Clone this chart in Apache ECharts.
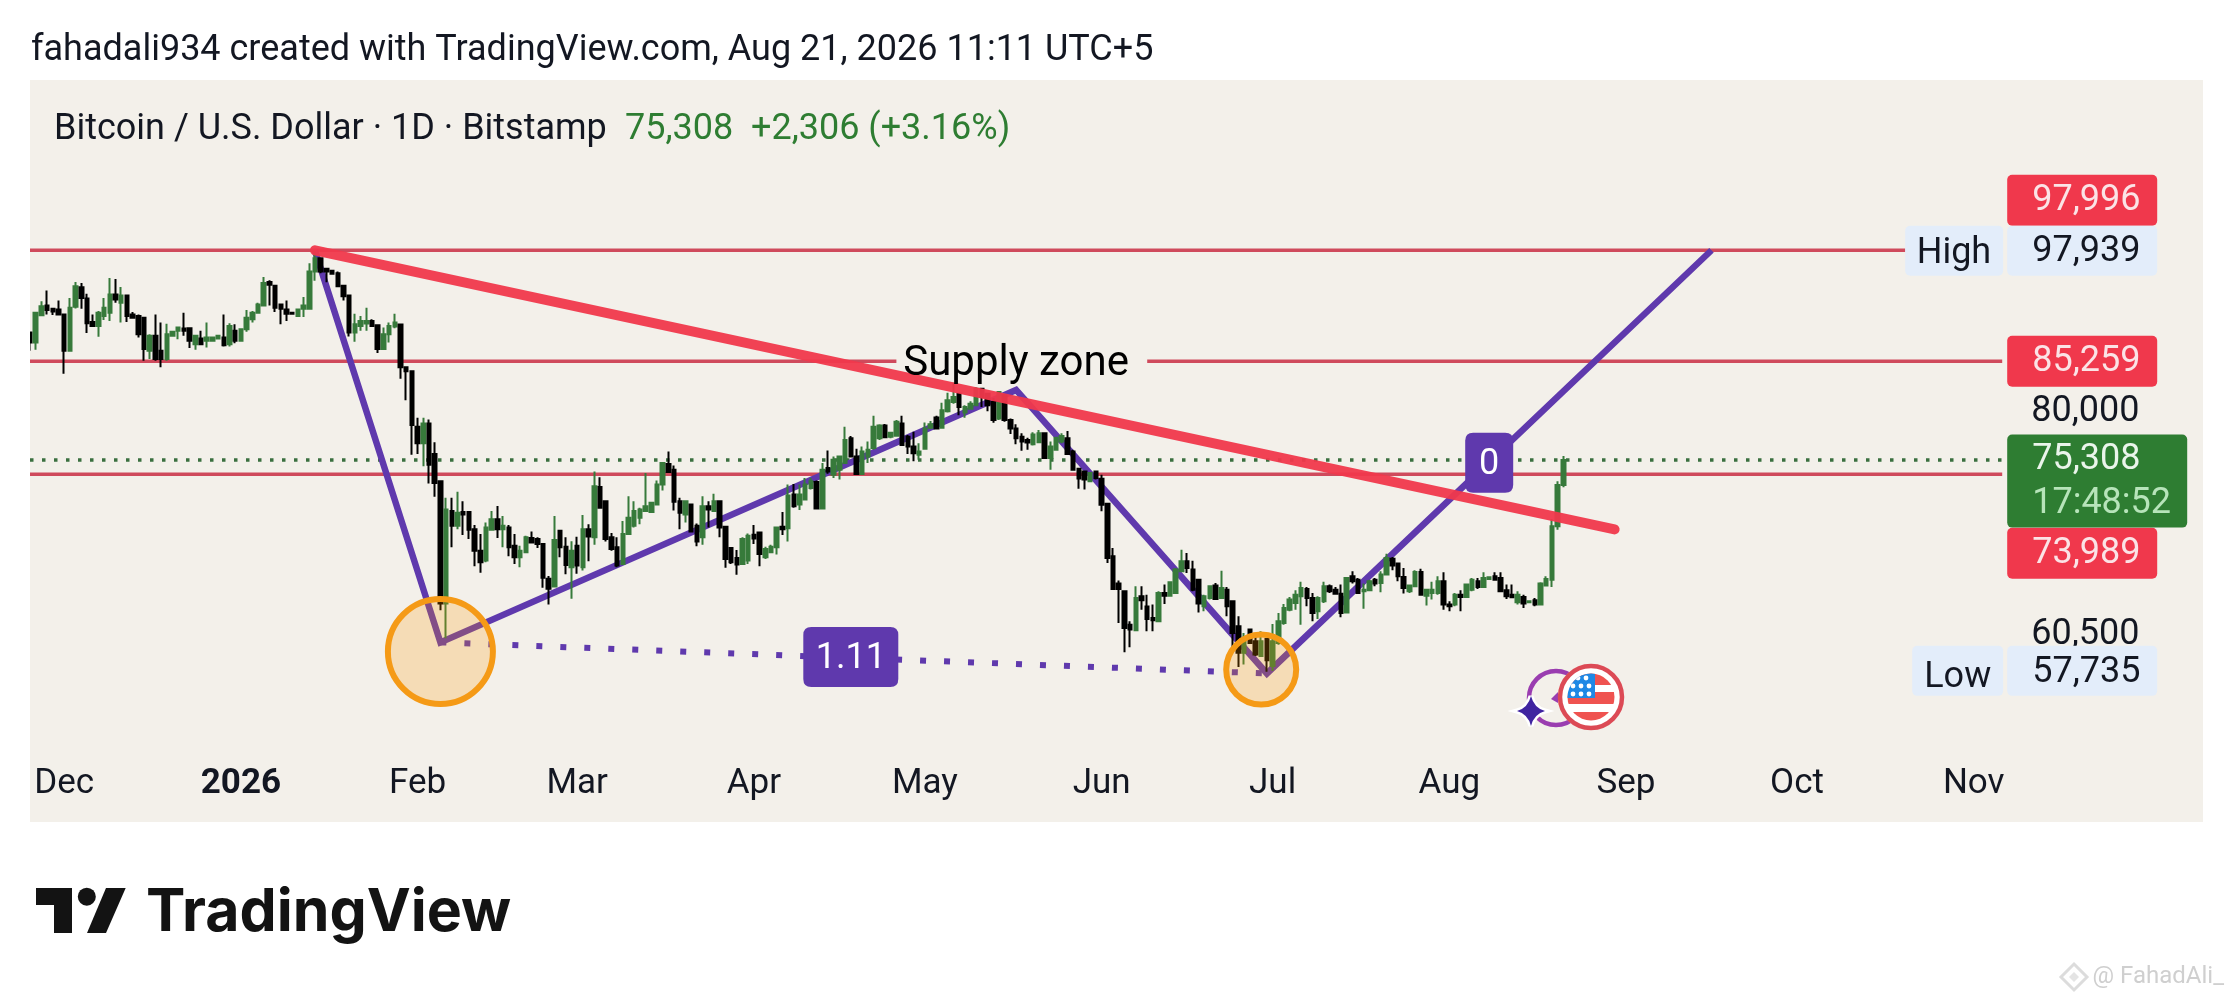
<!DOCTYPE html>
<html><head><meta charset="utf-8">
<style>html,body{margin:0;padding:0;background:#fff}#c{width:2232px;height:1002px}</style>
<script src="https://cdn.jsdelivr.net/npm/echarts@6/dist/echarts.min.js"></script>
</head><body><div id="c"></div>
<script>
// candle rows: [open, close, low, high]
const nov2025 = [[88390,87280,86390,88500],[87280,90610,86500,90700],[90310,91360,90230,91930],[91440,90910,90420,93170],[91060,90760,90350,91170],[90980,90420,90350,92000]];
const dec2025 = [[90420,86390,83920,90420],[86390,91170,86390,92310],[91280,93660,91100,94170],[93540,92310,91060,94060],[92230,89420,88320,92780],[89560,89120,89120,90420],[89120,90610,87910,90800],[90230,91170,89790,92310],[90610,92700,89680,94640],[92700,92120,91740,94530],[91740,92590,89490,93580],[92590,90230,89560,92700],[90420,90050,89940,90680],[90230,88200,87840,90420],[90050,86570,85320,90050],[86390,88020,85500,88200],[88020,85500,85320,90420],[86390,85500,84620,89490],[85500,88200,85320,89370],[88020,88460,87910,88570],[88570,88940,87650,89050],[88830,88570,88020,90610],[88870,87470,86680,88940],[87100,88020,86500,88090],[87730,87100,86990,88570],[87470,87840,86750,89490],[87470,87840,87360,87950],[87730,88020,87650,88090],[87840,86990,86860,90420],[87100,89120,86860,89420],[88570,87470,87210,89310]];
const jan2026 = [[87470,88760,87360,88830],[88760,90050,88460,90910],[89860,90610,89490,90800],[90610,91550,90490,91740],[91440,94060,91440,94760],[94170,93860,91440,94370],[93740,91170,90680,93740],[91550,91060,89310,91660],[90980,90490,89680,92000],[90610,90490,90420,90680],[90230,90980,90230,91060],[91060,91440,90120,92420],[91060,95420,91060,96420],[95420,97030,94330,97939],[97030,95420,95220,97150],[95740,95420,94140,95740],[95500,95140,95140,95500],[95220,93660,93660,95420],[93740,92510,92000,93740],[92590,88390,87950,92700],[88390,89310,87360,90490],[89120,89680,88570,90230],[89380,89680,88570,91170],[89680,89120,89120,89860],[89190,86570,86140,89190],[86570,88200,86570,88940],[88200,89120,87280,89490],[89050,89490,88870,90490],[89270,84620,83410,89270],[84620,84200,81180,84690],[84200,78700,75820,84200]];
const feb2026 = [[78540,76920,75880,79420],[76920,78860,74720,79420],[78860,74870,73120,79250],[75880,73180,71920,77020],[73340,62900,62380,73340],[62900,70790,60220,71830],[70640,69350,67500,71830],[69350,70500,69060,72370],[70560,70350,68550,71530],[70560,69000,68200,70640],[69060,67220,65920,69420],[67220,66250,65380,68630],[66390,69200,66250,69630],[69000,69920,69000,70640],[69920,69060,68290,71100],[69060,69350,67500,70200],[69200,67500,66750,69420],[67640,66670,66110,68630],[66670,67220,65840,67640],[67080,68350,67080,68490],[68290,67920,67860,68860],[68200,67780,67440,68350],[67780,64980,64170,67840],[64900,64090,62820,65110],[64270,68120,64220,70200],[68920,67500,66670,69000],[67560,66030,65250,68350],[65840,67220,63290,68010]];
const mar2026 = [[67640,65980,65300,68400],[65840,69060,65570,70300],[69060,68430,66340,69490],[68350,72880,67720,74250],[72820,70940,70880,73700],[71530,68200,68000,71620],[68350,67360,67220,68720],[67500,65980,65840,68350],[66110,68630,66110,69770],[68630,70060,68630,71980],[69350,70640,69200,71530],[70060,70790,69490,70940],[70640,71080,70640,74090],[70560,71380,70500,71470],[71230,73030,71230,73400],[73030,75030,72490,75120],[74940,74190,74090,76130],[74400,71470,70700,74810],[71530,70500,69060,71830],[70350,71530,69630,71530],[71230,68860,68780,71290],[69350,68000,67600,69550],[68350,71080,67720,71980],[71080,70790,69200,71530],[70640,71530,70640,72190],[71530,69200,68350,71530],[69260,66530,65790,69350],[67440,66250,66110,67500],[66610,66060,65220,67280],[66110,68200,66030,68350],[66390,68490,66110,68690]];
const apr2026 = [[68570,68260,67780,69410],[68770,66940,65920,68770],[66670,67360,66530,67560],[67080,67560,67000,67720],[67500,69200,66890,69290],[69260,69060,68550,70560],[69140,72030,68000,73030],[72130,71080,70940,73090],[71230,72130,70730,73030],[71680,73030,71620,73640],[72720,73340,72580,73640],[73270,70880,70790,73400],[70880,74400,70790,75030],[74560,74250,74030,76230],[73940,75340,73640,75650],[74400,75650,73490,75750],[75030,77240,74940,78540],[77400,75650,75560,77620],[75650,74000,73940,76380],[74000,76130,73940,76610],[75650,76290,75030,77080],[76450,78540,76290,79610],[77400,78640,77240,78770],[78640,77500,77460,78800],[77560,77950,77400,78040],[77650,79030,77560,79190],[78860,76760,76700,79610],[77560,76610,75880,77720],[76610,75970,75190,78040],[75820,76130,75340,76920]];
const may2026 = [[76380,78350,76350,78960],[78440,78770,78310,79090],[79450,78350,78310,79610],[78440,80180,78350,80940],[80070,81180,79940,81960],[81010,81520,80840,82990],[81860,80500,79680,81930],[79940,80500,79420,80670],[80330,80840,80260,81080],[80670,82370,80670,82540],[82370,81520,80500,82440],[81860,80670,80070,81960],[81010,79190,78930,81420],[79350,82030,79190,82100],[81690,79190,79030,81760],[79190,78350,77820,79350],[78350,77400,76820,78770],[77560,77080,76190,77880],[77240,76980,76290,77460],[76820,77780,76700,77980],[77020,77880,76920,78200],[77880,75500,75500,77980],[75500,76610,74400,77080],[76290,77460,76190,77560],[77080,77620,76920,77880],[77400,75880,75820,78100],[76130,74400,74300,76290],[74500,73590,72660,74560],[74250,73490,72580,74310],[73340,74090,73340,74160],[74250,73640,73490,74340]];
const jun2026 = [[73570,71210,70620,73940],[71300,66600,66190,71360],[66740,64070,64010,67440],[64500,64070,61390,64740],[63880,61010,59180,63960],[61260,60880,59550,61520],[60830,63350,60750,64280],[63480,63160,62420,64280],[62680,61700,60750,63610],[61780,61600,60750,62820],[61520,63750,61440,63880],[63750,63530,62870,64420],[63530,64600,63480,64680],[63750,65640,63750,65780],[65500,66330,65420,67300],[66330,65780,65360,67020],[65640,64010,63880,66380],[64820,62900,62210,64820],[62690,63480,62290,63610],[63350,64280,63220,64340],[64340,63270,63220,64550],[63350,64150,63270,65550],[64010,62690,61900,64230],[63080,60630,59130,63160],[61130,59130,58080,61900],[59130,60000,58280,60630],[60880,59870,59790,60880],[60000,59010,58890,60430],[58890,60000,58890,60750],[60170,58590,57735,60170]];
const jul2026 = [[58160,60000,57800,61300],[59870,61520,59740,62160],[61390,62550,61260,62870],[62420,63220,62290,63430],[62950,63610,62420,63960],[63480,64150,61260,64640],[64070,63350,62690,64230],[63350,62160,61520,63750],[62290,63350,61700,63480],[63080,64280,62950,64640],[64280,63880,63750,64420],[64010,63690,63660,64230],[63690,62160,61830,64420],[62210,64960,62160,65040],[65090,64690,64500,65500],[64820,63750,63660,64960],[63880,64010,62500,64500],[63960,64690,63880,64820],[64820,64500,64280,64960],[64550,65230,63800,65500],[65230,66600,65170,66960],[66550,65970,65580,66680],[66140,65090,64690,66190],[65040,64150,63700,65780],[63880,64340,63750,64420],[64280,65450,64230,65580],[65450,63610,63530,65720],[63530,64010,62740,64070],[63750,64010,63220,64640],[63750,64690,63610,65090],[64690,62820,62420,65420]];
const aug2026 = [[62820,62690,62290,63080],[62820,63610,62690,63750],[63610,63430,62290,63960],[63430,64420,63350,64500],[64010,64820,63880,64960],[64690,64230,64070,64960],[64230,64960,64150,65420],[64880,65010,64820,65090],[65090,64820,64770,65420],[64960,63880,63800,65420],[63960,63480,63270,64420],[63610,63400,63350,64420],[63010,63610,62820,63880],[63430,62900,62550,63610],[63010,63080,62950,63160],[63160,62820,62690,63350],[62820,64500,62740,64600],[64340,64880,64280,65090],[64820,69300,64230,69940],[69300,73002,69010,73330],[73002,75308,72780,75710]];

const firstDay = '2025-11-25';
const dayCount = 347;

const tickDates = ['2025-12-01','2026-01-01','2026-02-01','2026-03-01','2026-04-01','2026-05-01','2026-06-01','2026-07-01','2026-08-01','2026-09-01','2026-10-01','2026-11-01'];
const tickLabels = ['Dec','2026','Feb','Mar','Apr','May','Jun','Jul','Aug','Sep','Oct','Nov'];

const highLine = [['2025-11-25',97996],['2026-10-20',97996]];
const supplyLeft = [['2025-11-25',85259],['2026-04-26',85259]];
const supplyRight = [['2026-06-09',85259],['2026-11-06',85259]];
const lowerLine = [['2025-11-25',73989],['2026-11-06',73989]];
const lastLine = [['2025-11-25',75308],['2026-11-06',75308]];
const redTrend = [['2026-01-14',97996],['2026-08-30',69040]];
const zigzag = [['2026-01-14',97939],['2026-02-05',59910],['2026-05-17',82240],['2026-06-30',57620],['2026-09-16',97996]];
const dottedLeg = [['2026-02-05',59910],['2026-06-30',57620]];
const circleLarge = [['2026-02-05',59230]];
const circleSmall = [['2026-06-29',57900]];
const badgeRatio = [['2026-04-18',58830]];
const badgeZero = [['2026-08-08',75070]];
const supplyText = [['2026-05-17',85259]];

const axisPrices = [80000, 60500];
const tagPrices = [97996, 85259, 73989, 97939, 57735, 75308];
const tagTexts = ['97,996','85,259','73,989','97,939','57,735','75,308'];

const FONT = 'Roboto, sans-serif';
const INK = '#131722', RED = '#f0384c', HLINE = '#cf4a5c', PURPLE = '#5f39ad', GREEN = '#377a3b', BOXGREEN = '#2e7d32', TAGBLUE = '#e3edfa';

const candleRows = [...nov2025, ...dec2025, ...jan2026, ...feb2026, ...mar2026, ...apr2026, ...may2026, ...jun2026, ...jul2026, ...aug2026];
const days = [];
{ const t0 = Date.parse(firstDay + 'T00:00:00Z');
  for (let i = 0; i < dayCount; i++) days.push(new Date(t0 + i * 864e5).toISOString().slice(0, 10)); }

function lineSeries(data, color, width, z, extra) {
  return Object.assign({ type:'line', data, symbol:'none', silent:true, z, clip:false, animation:false,
    lineStyle:{ color, width, cap:'butt', join:'miter', ...(extra||{}) } });
}
// shape of each right-hand price tag: fill, text colour, box centre shift, box height
const tagLook = [
  { fill:RED, ink:'#fbe3e6', shift:-50, h:51, w:150, dy:1 },
  { fill:RED, ink:'#fbe3e6', shift:0, h:51, w:150, dy:1 },
  { fill:RED, ink:'#fbe3e6', shift:79, h:51, w:150, dy:1 },
  { fill:TAGBLUE, ink:INK, shift:0, h:50, w:150, dy:1, side:'High', sideW:98, sideDy:3 },
  { fill:TAGBLUE, ink:INK, shift:-1, h:50, w:150, dy:2, side:'Low', sideW:91, sideDy:7 },
  { fill:BOXGREEN, ink:'#eaf5eb', shift:21, h:93, w:180, dy:0, second:'17:48:52' }
];
function renderTag(params, api) {
  const i = params.dataIndex, look = tagLook[i];
  const pt = api.coord([api.value(0), api.value(1)]);
  const left = pt[0] + 5, cy = pt[1] + look.shift, top = cy - look.h / 2;
  const kids = [{ type:'rect', shape:{ x:left, y:top, width:look.w, height:look.h, r:5 }, style:{ fill:look.fill } }];
  const font = '36px ' + FONT;
  const textY = (look.second ? cy - 21 : cy) + look.dy;
  kids.push({ type:'text', style:{ text:tagTexts[i], x:left + 25, y:textY, fill:look.ink, font, textVerticalAlign:'middle' } });
  if (look.second) kids.push({ type:'text', style:{ text:look.second, x:left + 25, y:cy + 23, fill:'#b7e4ba', font, textVerticalAlign:'middle' } });
  if (look.side) {
    kids.push({ type:'rect', shape:{ x:left - 4 - look.sideW, y:top, width:look.sideW, height:look.h, r:5 }, style:{ fill:look.fill } });
    kids.push({ type:'text', style:{ text:look.side, x:left - 4 - 12, y:cy + look.sideDy, fill:INK, font, textAlign:'right', textVerticalAlign:'middle' } });
  }
  return { type:'group', children:kids };
}

const flagSvg = 'data:image/svg+xml;utf8,' + encodeURIComponent(
 `<svg xmlns="http://www.w3.org/2000/svg" width="128" height="84" viewBox="0 0 128 84">
  <circle cx="55" cy="39" r="27" fill="none" stroke="#9a3db0" stroke-width="4.5"/>
  <path d="M57 33 l-7 7 l7 4z" fill="#9a3db0"/>
  <circle cx="90" cy="38" r="33" fill="#fff"/>
  <path d="M30 37 q3 12 14 15 q-11 3 -14 15 q-3 -12 -14 -15 q11 -3 14 -15z" fill="#3f24a0" stroke="#fff" stroke-width="5" paint-order="stroke"/>
  <clipPath id="k"><circle cx="90" cy="38" r="23.5"/></clipPath>
  <g clip-path="url(#k)">
    <rect x="60" y="12" width="60" height="14" fill="#ef5350"/><rect x="60" y="26" width="60" height="7" fill="#fff"/>
    <rect x="60" y="33" width="60" height="12" fill="#ef5350"/><rect x="60" y="45" width="60" height="8" fill="#fff"/>
    <rect x="60" y="53" width="60" height="12" fill="#ef5350"/>
    <rect x="60" y="12" width="34" height="27" fill="#1e88e5"/>
    <g fill="#fff"><circle cx="85" cy="19" r="2.4"/><circle cx="77" cy="19" r="2.4"/><circle cx="72" cy="27" r="2.4"/><circle cx="80" cy="27" r="2.4"/><circle cx="88" cy="27" r="2.4"/><circle cx="72" cy="35" r="2.4"/><circle cx="80" cy="35" r="2.4"/><circle cx="88" cy="35" r="2.4"/></g>
  </g>
  <circle cx="90" cy="38" r="31" fill="none" stroke="#dc4a55" stroke-width="4.5"/>
 </svg>`);

const chart = echarts.init(document.getElementById('c'), null, { renderer:'canvas' });
chart.setOption({
  animation:false,
  backgroundColor:'#ffffff',
  textStyle:{ fontFamily:FONT },
  grid:{ left:30, top:80, width:1972.2, height:680, containLabel:false },
  xAxis:{ type:'category', data:days, boundaryGap:false,
    axisLine:{show:false}, axisTick:{show:false}, splitLine:{show:false},
    axisLabel:{ margin:7, fontSize:35, color:INK, fontFamily:FONT, hideOverlap:false,
      interval:(i, v) => tickDates.includes(v),
      formatter:(v) => { const k = tickDates.indexOf(v); const s = tickLabels[k]; return /^\d+$/.test(s) ? '{b|' + s + '}' : s; },
      rich:{ b:{ fontSize:35, fontWeight:700, color:INK, fontFamily:FONT } } } },
  yAxis:{ type:'log', logBase:10, min:51690, max:121340, position:'right',
    axisLine:{show:false}, axisTick:{show:false}, splitLine:{show:false}, minorTick:{show:false},
    axisLabel:{ show:true, margin:29, fontSize:36, color:INK, fontFamily:FONT, customValues:axisPrices, padding:[6,0,0,0],
      formatter:(v) => Math.round(v).toLocaleString('en-US') } },
  graphic:{ elements:[
    { type:'rect', z:-10, silent:true, shape:{ x:30, y:80, width:2173, height:742 }, style:{ fill:'#f3f0ea' } },
    { type:'rect', z:50, silent:true, shape:{ x:0, y:80, width:30, height:742 }, style:{ fill:'#ffffff' } },
    { type:'text', silent:true, style:{ x:31, y:51, text:'fahadali934 created with TradingView.com, Aug 21, 2026 11:11 UTC+5', font:'36px '+FONT, fill:INK, textVerticalAlign:'middle' } },
    { type:'text', silent:true, style:{ x:54, y:130, text:'Bitcoin / U.S. Dollar · 1D · Bitstamp', font:'36px '+FONT, fill:INK, textVerticalAlign:'middle' } },
    { type:'text', silent:true, style:{ x:625, y:130, text:'75,308', font:'36px '+FONT, fill:BOXGREEN, textVerticalAlign:'middle' } },
    { type:'text', silent:true, style:{ x:751, y:130, text:'+2,306 (+3.16%)', font:'36px '+FONT, fill:BOXGREEN, textVerticalAlign:'middle' } },
    { type:'polygon', silent:true, shape:{ points:[[36,888],[72,888],[72,933],[54,933],[54,905],[36,905]] }, style:{ fill:'#131313' } },
    { type:'circle', silent:true, shape:{ cx:86.8, cy:896.7, r:9 }, style:{ fill:'#131313' } },
    { type:'polygon', silent:true, shape:{ points:[[106,888],[125.7,888],[106,933],[87,933]] }, style:{ fill:'#131313' } },
    { type:'text', silent:true, style:{ x:146, y:943, text:'TradingView', font:'700 59px Inter, '+FONT, fill:'#131313', textVerticalAlign:'bottom' } },
    { type:'polygon', silent:true, shape:{ points:[[2074,964],[2087,977],[2074,990],[2061,977]] }, style:{ fill:'none', stroke:'#dcdcdc', lineWidth:3 } },
    { type:'polygon', silent:true, shape:{ points:[[2074,972],[2079,977],[2074,982],[2069,977]] }, style:{ fill:'#e4e4e4' } },
    { type:'text', silent:true, style:{ x:2224, y:977, text:'@ FahadAli_', font:'24px '+FONT, fill:'#cfcfcf', textAlign:'right', textVerticalAlign:'middle' } },
    { type:'image', silent:true, z:20, style:{ image:flagSvg, x:1501, y:659, width:128, height:84 } }
  ] },
  series:[
    lineSeries(highLine, HLINE, 3.5, 2),
    lineSeries(supplyLeft, HLINE, 3.5, 2),
    lineSeries(supplyRight, HLINE, 3.5, 2),
    lineSeries(lowerLine, HLINE, 3.5, 2),
    lineSeries(lastLine, '#3a6f3f', 3.5, 2, { type:[3.5,8.5] }),
    lineSeries(dottedLeg, PURPLE, 6, 3, { type:[6,18] }),
    lineSeries(zigzag, PURPLE, 6.5, 3),
    { type:'candlestick', z:4, barWidth:4, clip:true, silent:true, animation:false, data:candleRows,
      itemStyle:{ color:GREEN, color0:'#000000', borderColor:GREEN, borderColor0:'#000000', borderWidth:2 } },
    lineSeries(redTrend, RED, 10, 5, { cap:'round', opacity:0.95 }),
    { type:'scatter', z:6, silent:true, clip:false, symbol:'circle', symbolSize:105, data:circleLarge,
      itemStyle:{ color:'rgba(255,152,0,0.22)', borderColor:'#f59a16', borderWidth:6, opacity:1 } },
    { type:'scatter', z:6, silent:true, clip:false, symbol:'circle', symbolSize:70, data:circleSmall,
      itemStyle:{ color:'rgba(255,152,0,0.22)', borderColor:'#f59a16', borderWidth:6, opacity:1 } },
    { type:'scatter', z:7, silent:true, clip:false, symbol:'path://M8 0H87Q95 0 95 8V52Q95 60 87 60H8Q0 60 0 52V8Q0 0 8 0Z', symbolSize:[95,60], data:badgeRatio,
      itemStyle:{ color:PURPLE, opacity:1 }, label:{ show:true, position:'inside', offset:[0,2], formatter:'1.11', color:'#fff', fontSize:36, fontFamily:FONT } },
    { type:'scatter', z:7, silent:true, clip:false, symbol:'path://M8 0H40Q48 0 48 8V52Q48 60 40 60H8Q0 60 0 52V8Q0 0 8 0Z', symbolSize:[48,60], data:badgeZero,
      itemStyle:{ color:PURPLE, opacity:1 }, label:{ show:true, position:'inside', offset:[0,2], formatter:'0', color:'#fff', fontSize:36, fontFamily:FONT } },
    { type:'scatter', z:7, silent:true, clip:false, symbolSize:1, data:supplyText,
      itemStyle:{ color:INK, opacity:1 }, label:{ show:true, position:'inside', offset:[0,3], formatter:'Supply zone', color:'#000', fontSize:42, fontFamily:FONT, opacity:1 } },
    { type:'custom', z:8, silent:true, clip:false, renderItem:renderTag,
      data:tagPrices.map(p => [days[days.length-1], p]), encode:{ x:0, y:1 } }
  ]
});
</script></body></html>
